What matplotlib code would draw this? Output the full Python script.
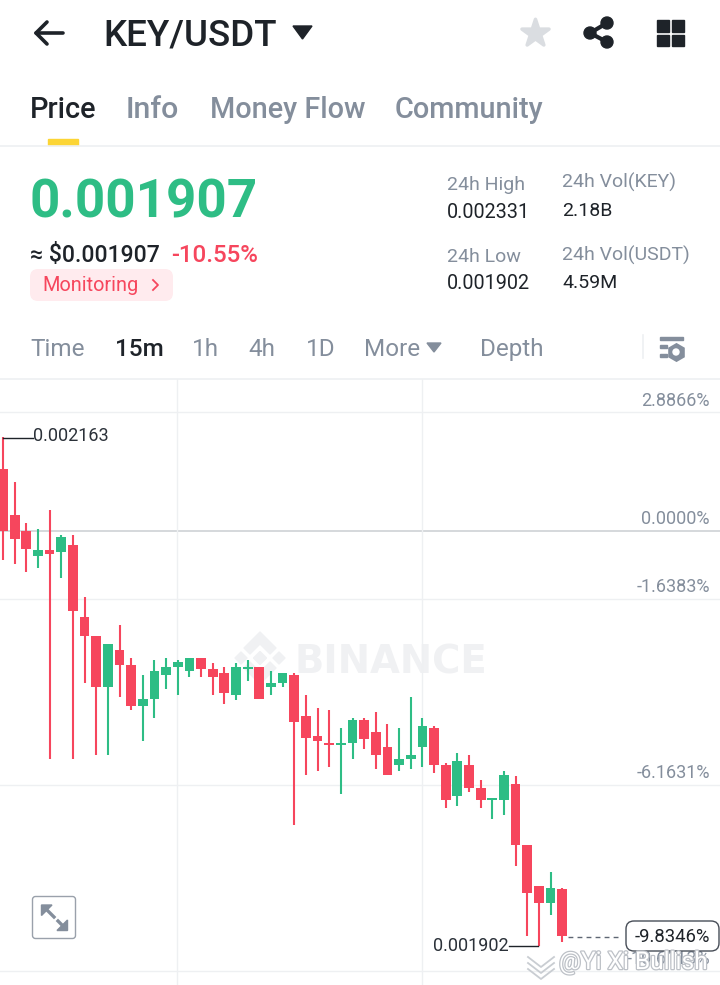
import matplotlib
matplotlib.use('Agg')
import matplotlib.pyplot as plt
from matplotlib.patches import FancyBboxPatch, Polygon, Rectangle, Circle
import matplotlib.patheffects as pe

plt.rcParams['font.family'] = ['Roboto', 'DejaVu Sans']

# Candles, prices in millionths of USDT
highs = [2163, 2140, 2119, 2116, 2126, 2113, 2113, 2081, 2061, 2057,
         2067, 2050, 2041, 2049, 2050, 2049, 2050, 2050, 2047, 2045,
         2047, 2049, 2045, 2043, 2042, 2042, 2031, 2024, 2023, 2014,
         2019, 2019, 2022, 2016, 2014, 2030, 2019, 2015, 1996, 2001,
         2000, 1987, 1978, 1992, 1989, 1954, 1933, 1940, 1932]
lows = [2100, 2098, 2094, 2096, 1998, 2091, 1998, 2037, 2000, 2000,
        2030, 2023, 2007, 2019, 2034, 2031, 2040, 2040, 2031, 2026,
        2028, 2038, 2029, 2031, 2035, 1964, 1990, 1992, 1994, 1980,
        1998, 2003, 1993, 1990, 1992, 1993, 1994, 1991, 1973, 1974,
        1981, 1973, 1967, 1969, 1943, 1907, 1902, 1918, 1904]
opens = [2147, 2123, 2115, 2102, 2105, 2104, 2108, 2071, 2061, 2035,
         2054, 2046, 2025, 2029, 2041, 2045, 2043, 2050, 2044, 2042,
         2031, 2044, 2045, 2035, 2037, 2041, 2020, 2010, 2006, 2005,
         2006, 2018, 2012, 2004, 1995, 1998, 2004, 2014, 1995, 1979,
         1995, 1983, 1977, 1977, 1985, 1954, 1933, 1924, 1931]
closes = [2115, 2111, 2106, 2105, 2103, 2112, 2074, 2061, 2035, 2057,
          2046, 2025, 2029, 2043, 2045, 2048, 2050, 2044, 2040, 2032,
          2045, 2045, 2029, 2037, 2042, 2017, 2009, 2007, 2005, 2006,
          2018, 2008, 2000, 1990, 1998, 2000, 2015, 1995, 1977, 1997,
          1983, 1977, 1978, 1990, 1954, 1929, 1924, 1932, 1907]

base_price = 2115
grid_pcts = [2.8866, 0.0, -1.6383, -6.1631, -10.68]
grid_labels = ['2.8866%', '0.0000%', '-1.6383%', '-6.1631%']
grid_x = [14.97, 36.0]

GREEN = '#2EBD85'
RED = '#F6465D'
DARK = '#1E2329'
GREY = '#848E9C'
LINE = '#EEF0F2'
MARK = '#F0F1F3'

fig = plt.figure(figsize=(7.2, 9.85), dpi=100)


def pixel_axes(z):
    # Axes in image pixels, y going down
    a = fig.add_axes([0, 0, 1, 1], zorder=z)
    a.set_xlim(0, 720)
    a.set_ylim(985, 0)
    a.axis('off')
    return a


# Binance watermark sits behind the candles
back = pixel_axes(0)
lx, ly = 260, 658
chevron = [(0, -26), (16, -10), (10, -4), (0, -14), (-10, -4), (-16, -10)]
back.add_patch(Polygon([(lx + a, ly + b) for a, b in chevron], color=MARK))
back.add_patch(Polygon([(lx + a, ly - b) for a, b in chevron], color=MARK))
for ox, r in [(0, 6.5), (-19, 6), (19, 6)]:
    back.add_patch(Polygon([(lx + ox - r, ly), (lx + ox, ly - r), (lx + ox + r, ly), (lx + ox, ly + r)], color=MARK))
back.text(294, 662, 'BINANCE', fontsize=27.8, color=MARK, family='DejaVu Sans', fontweight='bold', va='center')

# Chart axes: from y=379 px down to the bottom of the image
ax = fig.add_axes([0, 0, 1, (985 - 379) / 985], zorder=1)
step = 11.65
px_price = 0.5133
ax.set_xlim(-3 / step, 717 / step)
ax.set_ylim(base_price - 454 * px_price, base_price + 152 * px_price)
ax.axis('off')


def pct_price(p):
    return base_price * (1 + p / 100)


for p in grid_pcts:
    if p == 0:
        ax.axhline(pct_price(p), color='#D5D8DC', lw=1.4, zorder=1)
    else:
        ax.axhline(pct_price(p), color=LINE, lw=1.0, zorder=1)
for x in grid_x:
    ax.axvline(x, color=LINE, lw=1.0, zorder=1)

xs = list(range(len(opens)))
colors = [GREEN if c > o else RED for o, c in zip(opens, closes)]
ax.vlines(xs, lows, highs, color=colors, lw=1.5, zorder=3)
bottoms = [min(o, c) for o, c in zip(opens, closes)]
heights = [max(abs(c - o), 1.2) for o, c in zip(opens, closes)]
ax.bar(xs, heights, bottom=bottoms, width=0.84, color=colors, zorder=4)

# Overlay in pixel coordinates for the app screen around the chart
ui = pixel_axes(2)


def label(x, y, s, size, color=DARK, ha='left', weight='normal', **kw):
    return ui.text(x, y + 1.5, s, fontsize=size, color=color, ha=ha, va='center', fontweight=weight, **kw)


# Header
ui.plot([36, 63], [33, 33], color=DARK, lw=2.6, solid_capstyle='round')
ui.plot([47, 36, 47], [22, 33, 44], color=DARK, lw=2.6, solid_capstyle='round', solid_joinstyle='round')
label(103, 35, 'KEY/USDT', 26.6, weight='medium')
ui.add_patch(Polygon([[293, 26], [312, 26], [302.5, 39]], color=DARK))
ui.scatter([535], [33], marker='*', s=420, color='#DADDE1', edgecolor='#DADDE1', linewidths=2.5)
ui.plot([607, 590, 607], [23, 33, 42], color=DARK, lw=3)
for cx, cy in [(607, 23), (590, 33), (607, 42)]:
    ui.add_patch(Circle((cx, cy), 6, color=DARK))
for gx in [657, 672]:
    for gy in [20, 34.5]:
        ui.add_patch(Rectangle((gx, gy), 11.5, 11.5, color=DARK))

# Tabs
label(30, 109, 'Price', 20.8, weight='medium')
label(126, 109, 'Info', 21.9, GREY, weight='medium')
label(210, 109, 'Money Flow', 20.8, GREY, weight='medium')
label(395, 109, 'Community', 20.8, GREY, weight='medium')
ui.add_patch(Rectangle((48, 139), 30, 6, color='#FCD535'))
ui.plot([0, 720], [146, 146], color=LINE, lw=1.2)

# Price block
label(30, 201, '0.001907', 38.2, GREEN, weight='bold')
label(30, 254, '≈ $0.001907', 16.6, weight='medium')
label(171, 254, '-10.55%', 17.4, RED, weight='medium')
ui.add_patch(FancyBboxPatch((36, 275), 131, 20, boxstyle='round,pad=6,rounding_size=8', fc='#FFEBEE', ec='none'))
label(42, 284, 'Monitoring', 14.3, RED)
ui.plot([153, 158, 153], [280, 285, 290], color=RED, lw=1.3)

label(447, 183, '24h High', 14, GREY)
label(447, 211, '0.002331', 14.2)
label(447, 255, '24h Low', 14, GREY)
label(447, 282, '0.001902', 14.2)
label(562, 181, '24h Vol(KEY)', 14, GREY)
label(562, 210, '2.18B', 14)
label(562, 254, '24h Vol(USDT)', 14, GREY)
label(562, 282, '4.59M', 14)

# Interval row
label(30, 348, 'Time', 17.5, GREY)
label(115, 348, '15m', 17.5, weight='medium')
label(192, 348, '1h', 17.5, GREY)
label(248, 348, '4h', 17.5, GREY)
label(306, 348, '1D', 17.5, GREY)
label(364, 348, 'More', 17.5, GREY)
ui.add_patch(Polygon([[427, 343], [441, 343], [434, 352]], color=GREY))
label(480, 348, 'Depth', 17.5, GREY)
ui.plot([643, 643], [335, 358], color=LINE, lw=1.2)
ui.add_patch(Rectangle((660, 337), 23, 3, color=GREY))
ui.add_patch(Rectangle((660, 345), 7, 3, color=GREY))
ui.add_patch(Rectangle((660, 354), 7, 3, color=GREY))
ui.scatter([676], [352], marker='h', s=190, color=GREY, linewidths=0)
ui.add_patch(Circle((676, 352), 3, color='white'))
ui.plot([0, 720], [378.5, 378.5], color=LINE, lw=1.2)

# Right-hand labels
for txt, y in zip(grid_labels, [399, 518, 586, 772]):
    label(710, y, txt, 13, GREY, ha='right')

# High / low callouts
ui.plot([3, 3, 33], [438, 437.5, 437.5], color=DARK, lw=1)
label(33, 434.5, '0.002163', 13, '#2B3139')
ui.plot([509, 538], [946, 946], color=DARK, lw=1)
label(433, 944.5, '0.001902', 13, '#2B3139')

# Last price marker
ui.plot([568, 620], [936.5, 936.5], color='#5E6673', lw=1, ls=(0, (3.5, 3)))
label(710, 958, '-10.6113%', 13, GREY, ha='right')
ui.add_patch(FancyBboxPatch((632, 927), 81, 18, boxstyle='round,pad=6,rounding_size=8', fc='white', ec='#474D57', lw=1, zorder=5))
label(710, 936, '-9.8346%', 13.3, DARK, ha='right', zorder=6)

# Expand button
ui.add_patch(FancyBboxPatch((34, 898), 40, 39, boxstyle='round,pad=1.5,rounding_size=3', fc='white', ec='#9AA1AB', lw=1))
ui.plot([45, 54], [908, 917], color=GREY, lw=2.4)
ui.plot([58, 65], [921, 928], color=GREY, lw=2.4)
ui.add_patch(Polygon([[41.5, 905], [52, 905], [41.5, 915.5]], color=GREY))
ui.add_patch(Polygon([[67.5, 930.5], [57, 930.5], [67.5, 920]], color=GREY))

# Repost watermark bottom right
stroke = [pe.withStroke(linewidth=1.8, foreground='#BDC1C7')]
label(559, 961, '@Yi Xi Bullish', 17.6, 'white', zorder=7, path_effects=stroke)
for dy in [0, 6, 12]:
    ui.plot([528, 541, 554], [957 + dy, 967 + dy, 957 + dy], color='#C9CDD2', lw=1.3, zorder=7)

fig.savefig('out.png', dpi=100)
